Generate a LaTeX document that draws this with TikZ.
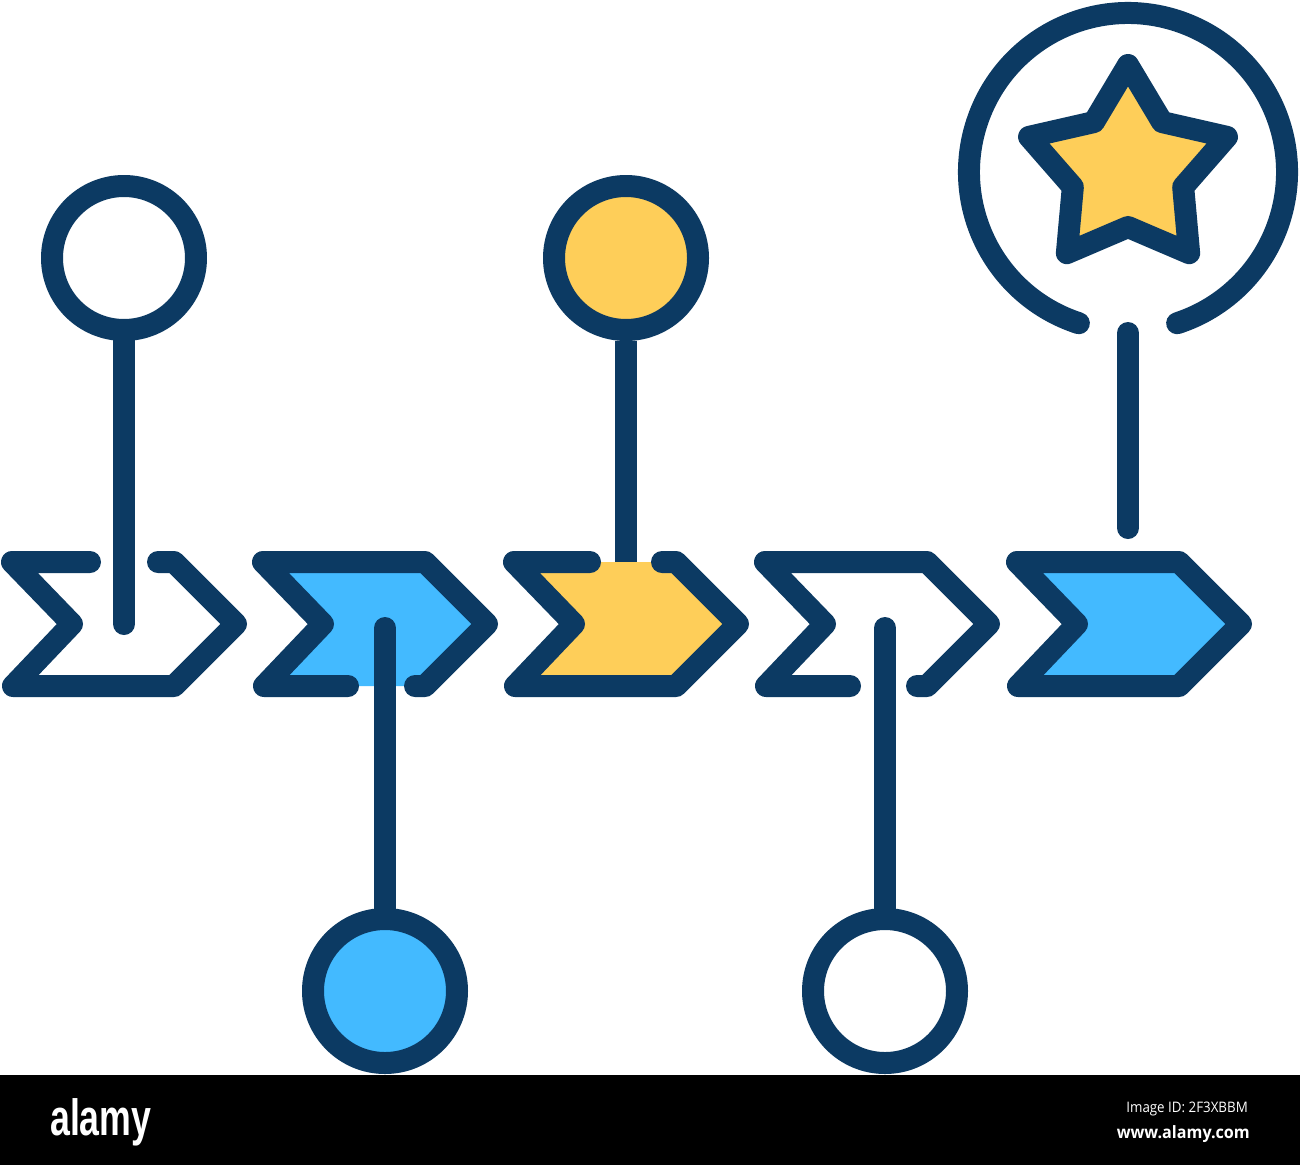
\documentclass[tikz,border=0pt]{standalone}
\usepackage{fontspec}
\usepackage{graphicx}
\setmainfont{Open Sans}
\newfontfamily\logofont{Liberation Sans}
\definecolor{navy}{RGB}{12,58,99}
\definecolor{lblue}{RGB}{67,186,255}
\definecolor{ylw}{RGB}{254,206,89}
\begin{document}
\begin{tikzpicture}[x=1pt,y=-1pt,line cap=round,line join=round,
  outline/.style={draw=navy,line width=22pt},
  ring/.style={circle,draw=navy,line width=22pt,minimum size=144pt,inner sep=0pt},
  bluefill/.style={fill=lblue},
  yellowfill/.style={fill=ylw}]
\fill[white] (0,0) rectangle (1300,1165);
\useasboundingbox (0,0) rectangle (1300,1165);

% milestone circles
\node[ring,fill=white] (c1) at (124,258) {};
\node[ring,fill=ylw]   (c3) at (626,258) {};
\node[ring,fill=lblue] (c2) at (385,991) {};
\node[ring,fill=white] (c4) at (885,991) {};

% end points of the connectors
\coordinate (e1) at (124,624);
\coordinate (e2) at (385,628);
\coordinate (e3) at (626,566);
\coordinate (e4) at (885,628);
\coordinate (s1) at (1128,333);
\coordinate (s2) at (1128,528);

% yellow connector (goes under the yellow chevron)
\draw[outline,line cap=butt] (c3.south) -- (e3);

% chevron 1
\draw[outline] (158,562) -- (174,562) -- (236,624) -- (174,686) -- (13,686) -- (72,624) -- (12,562) -- (90,562);
\draw[outline] (c1.south) -- (e1);

% chevron 2
\begin{scope}[xshift=251pt]
\fill[bluefill] (12,562) -- (174,562) -- (236,624) -- (174,686) -- (13,686) -- (72,624) -- cycle;
\draw[outline] (164,686) -- (174,686) -- (236,624) -- (174,562) -- (12,562) -- (72,624) -- (13,686) -- (97,686);
\end{scope}
\draw[outline] (c2.north) -- (e2);

% chevron 3
\begin{scope}[xshift=502pt]
\fill[yellowfill] (12,562) -- (174,562) -- (236,624) -- (174,686) -- (13,686) -- (72,624) -- cycle;
\draw[outline] (160,562) -- (174,562) -- (236,624) -- (174,686) -- (13,686) -- (72,624) -- (12,562) -- (88,562);
\end{scope}

% chevron 4
\begin{scope}[xshift=753pt]
\draw[outline] (164,686) -- (174,686) -- (236,624) -- (174,562) -- (12,562) -- (72,624) -- (13,686) -- (97,686);
\end{scope}
\draw[outline] (c4.north) -- (e4);

% chevron 5
\begin{scope}[xshift=1005pt]
\draw[outline,bluefill] (12,562) -- (174,562) -- (236,624) -- (174,686) -- (13,686) -- (72,624) -- cycle;
\end{scope}

% goal: open circle with star
\draw[outline] (1128,172) ++(108:159) arc[start angle=108,end angle=432,radius=159];
\begin{scope}[shift={(1128,169)}]
\draw[outline,yellowfill] (-90:104) -- (-54:58) -- (-18:104) -- (18:58) -- (54:104) -- (90:58) -- (126:104) -- (162:58) -- (198:104) -- (234:58) -- cycle;
\end{scope}
\draw[outline] (s1) -- (s2);

% footer bar
\fill[black] (0,1075) rectangle (1300,1165);
\node[anchor=base west,inner sep=0pt,text=white,font=\logofont\bfseries\fontsize{51}{51}\selectfont] (logo) at (50,1135) {\scalebox{0.7}[1]{alamy}};
\node[anchor=base east,inner sep=0pt,text=white,font=\fontsize{14.5}{15}\selectfont] (imgid) at (1248,1112) {\scalebox{0.92}[1]{Image ID: 2F3XBBM}};
\node[anchor=base east,inner sep=0pt,text=white,font=\bfseries\fontsize{17}{18}\selectfont] (url) at (1250,1138) {\scalebox{0.95}[1]{www.alamy.com}};
\end{tikzpicture}
\end{document}
